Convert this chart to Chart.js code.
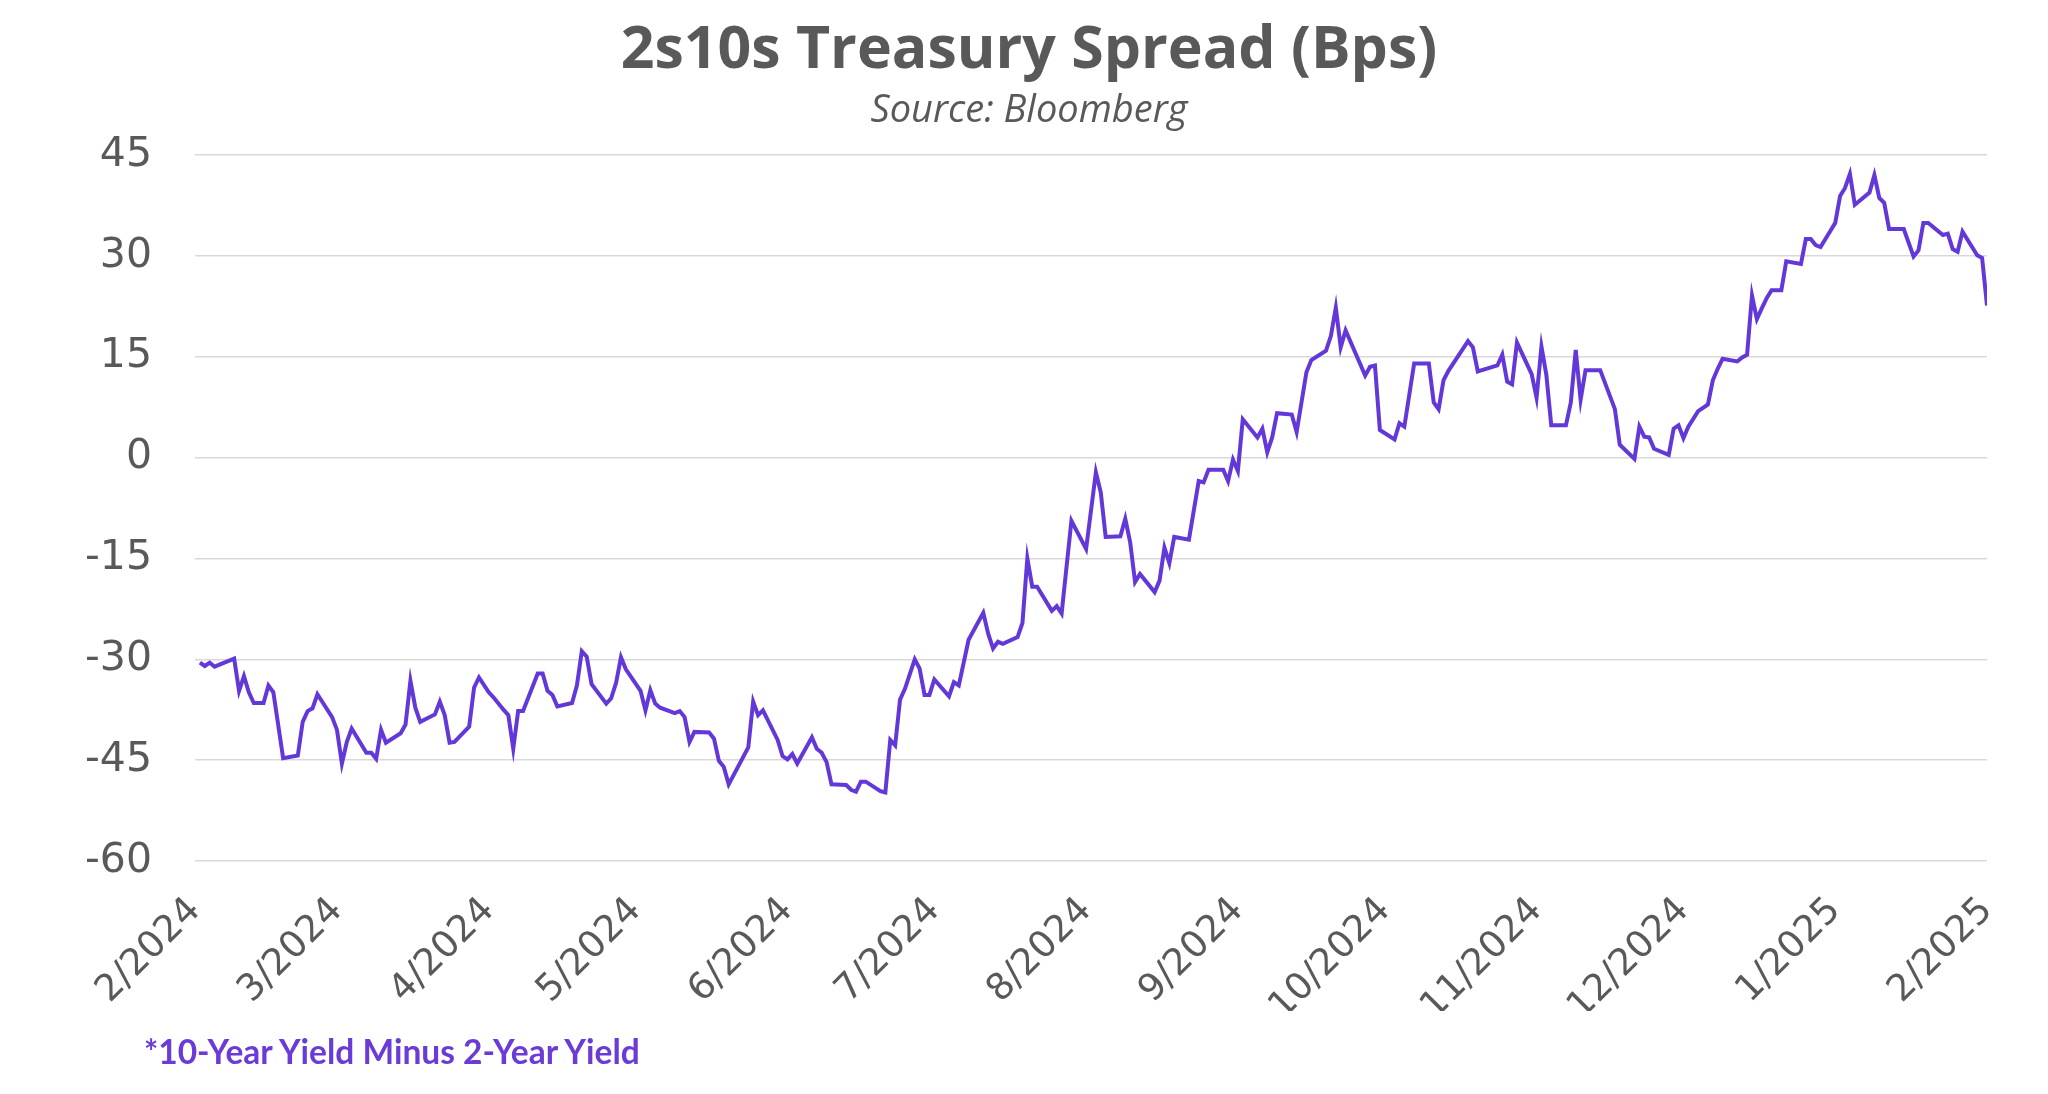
<!DOCTYPE html>
<html>
<head>
<meta charset="utf-8">
<title>2s10s Treasury Spread</title>
<script src="https://cdn.jsdelivr.net/npm/chart.js@4.4.1/dist/chart.umd.min.js"></script>
<style>
    html, body { margin: 0; padding: 0; background: #fff; }
    #wrap { position: relative; width: 2048px; height: 1094px; }
    #footnote {
        position: absolute; left: 144px; top: 1031px;
        font-family: Lato, sans-serif;
        font-weight: 700; font-size: 33.5px; color: #6a3bd6; white-space: nowrap;
    }
</style>
</head>
<body>
<div id="wrap">
    <canvas id="spreadChart" width="2048" height="1094"></canvas>
    <div id="footnote">*10-Year Yield Minus 2-Year Yield</div>
</div>
<script>
// Days since 2024-02-01 (at each vertex of the line)
const days = [1,2,3,4,8,9,10,11,12,14,15,16,18,21,22,23,24,25,28,29,30,31,32,35,36,37,38,39,42,43,44,45,46,49,50,51,52,53,56,57,58,60,61,63,64,65,66,67,70,71,72,73,74,77,78,79,80,81,84,85,86,87,88,91,92,93,94,95,98,99,100,101,102,105,106,107,108,109,113,114,115,116,119,120,121,122,123,126,127,128,129,130,133,134,135,136,137,140,141,142,143,144,145,147,148,149,150,151,154,155,156,158,161,162,163,164,165,168,169,170,171,172,175,176,177,179,182,184,185,186,189,190,191,192,193,196,197,198,199,200,203,205,206,207,210,211,212,213,214,217,218,219,220,221,224,225,227,228,231,232,233,234,235,239,240,241,242,245,246,247,249,252,253,254,255,256,260,261,262,266,267,268,269,270,273,274,275,276,277,280,281,282,283,284,287,290,291,294,295,296,297,298,301,302,303,304,305,307,308,309,310,311,312,315,316,317,318,319,320,321,322,324,325,328,329,330,331,332,334,335,336,337,338,339,342,343,344,345,346,349,351,352,353,354,357,358,359,360,361,364,365,366];

// 10y minus 2y spread, bps
const spread = [-30.5,-31.0,-30.5,-31.1,-29.9,-34.7,-32.5,-34.9,-36.5,-36.5,-33.9,-34.9,-44.7,-44.3,-39.3,-37.7,-37.3,-35.2,-38.6,-40.5,-45.5,-42.3,-40.3,-43.9,-43.9,-44.8,-40.5,-42.4,-41.0,-39.7,-33.2,-37.2,-39.3,-38.2,-36.3,-38.3,-42.4,-42.3,-40.0,-34.2,-32.7,-34.9,-35.7,-37.5,-38.3,-43.3,-37.7,-37.7,-32.1,-32.1,-34.7,-35.3,-37.0,-36.5,-33.9,-28.8,-29.6,-33.7,-36.6,-35.8,-33.5,-29.7,-31.5,-34.7,-37.6,-34.6,-36.6,-37.2,-38.0,-37.7,-38.6,-42.3,-40.8,-40.9,-41.8,-45.1,-46.0,-48.6,-43.1,-36.3,-38.3,-37.6,-42.0,-44.4,-44.9,-44.1,-45.5,-41.6,-43.3,-43.9,-45.3,-48.6,-48.7,-49.4,-49.7,-48.2,-48.2,-49.6,-49.8,-42.0,-42.8,-36.0,-34.4,-30.0,-31.4,-35.3,-35.3,-33.0,-35.5,-33.4,-33.9,-27.1,-23.1,-26.2,-28.4,-27.4,-27.7,-26.7,-24.6,-15.0,-19.2,-19.2,-22.8,-22.1,-23.2,-9.4,-13.6,-2.2,-5.2,-11.8,-11.7,-9.1,-12.6,-18.5,-17.3,-20.0,-18.3,-13.4,-15.7,-11.8,-12.2,-3.5,-3.7,-1.8,-1.8,-3.5,-0.3,-2.0,5.7,3.0,4.3,0.8,3.0,6.6,6.4,3.8,12.7,14.5,15.9,18.1,22.3,16.4,18.9,12.2,13.5,13.7,4.1,2.7,5.1,4.6,14.0,14.0,8.2,7.2,11.5,12.9,17.3,16.4,12.8,13.7,15.3,11.3,10.9,17.1,12.4,8.9,16.5,12.3,4.8,4.8,8.2,16.0,8.6,13.0,13.0,7.2,1.9,-0.2,4.6,3.1,3.0,1.3,0.4,4.3,4.8,2.9,4.6,6.9,7.4,7.9,11.5,13.2,14.7,14.3,14.9,15.3,24.1,20.6,22.2,23.7,24.9,24.9,29.2,28.8,32.5,32.5,31.6,31.3,33.7,34.9,38.9,40.1,42.2,37.6,39.4,42.0,38.6,37.9,34.0,34.0,29.9,30.8,34.9,34.9,33.1,33.3,31.0,30.6,33.6,30.1,29.7,22.6];

// Month ticks on the x axis (days since 2024-02-01)
const monthStarts = [0, 29, 60, 90, 121, 151, 182, 213, 243, 274, 304, 335, 366];
const monthLabels = ['2/2024', '3/2024', '4/2024', '5/2024', '6/2024', '7/2024', '8/2024',
    '9/2024', '10/2024', '11/2024', '12/2024', '1/2025', '2/2025'];

const yMin = -60, yMax = 45, yStep = 15;

const labelColor = '#595959';
const lineColor = '#6338d9';

const ctx = document.getElementById('spreadChart').getContext('2d');
new Chart(ctx, {
    type: 'line',
    data: {
        datasets: [{
            label: '2s10s',
            data: days.map((d, i) => ({ x: d, y: spread[i] })),
            borderColor: lineColor,
            borderWidth: 4,
            pointRadius: 0,
            tension: 0,
            fill: false
        }]
    },
    options: {
        responsive: false,
        devicePixelRatio: 1,
        animation: false,
        layout: { padding: { top: 0, right: 61, bottom: 83, left: 71 } },
        plugins: {
            legend: { display: false },
            tooltip: { enabled: false },
            title: {
                display: true,
                text: '2s10s Treasury Spread (Bps)',
                color: labelColor,
                font: { family: 'Open Sans', size: 59, weight: 'bold' },
                padding: { top: 16, bottom: 0 }
            },
            subtitle: {
                display: true,
                text: 'Source: Bloomberg',
                color: labelColor,
                font: { family: 'Open Sans', size: 38, style: 'italic' },
                padding: { top: 2, bottom: 20.6 }
            }
        },
        scales: {
            x: {
                type: 'linear',
                min: 0,
                max: 366,
                afterBuildTicks: scale => {
                    scale.ticks = monthStarts.map(v => ({ value: v }));
                },
                ticks: {
                    autoSkip: false,
                    minRotation: 45,
                    maxRotation: 45,
                    padding: 28,
                    color: labelColor,
                    font: { family: 'DejaVu Sans', size: 37 },
                    callback: (value, index) => monthLabels[index]
                },
                grid: { display: false, drawTicks: false },
                border: { display: false },
                afterFit: scale => { scale.height = 150; }
            },
            y: {
                min: yMin,
                max: yMax,
                ticks: {
                    stepSize: yStep,
                    padding: 43,
                    color: labelColor,
                    font: { family: 'DejaVu Sans', size: 41 }
                },
                grid: { color: '#d9d9d9', lineWidth: 1.5, drawTicks: false },
                border: { display: false },
                afterFit: scale => { scale.width = 124; }
            }
        }
    }
});
</script>
</body>
</html>
